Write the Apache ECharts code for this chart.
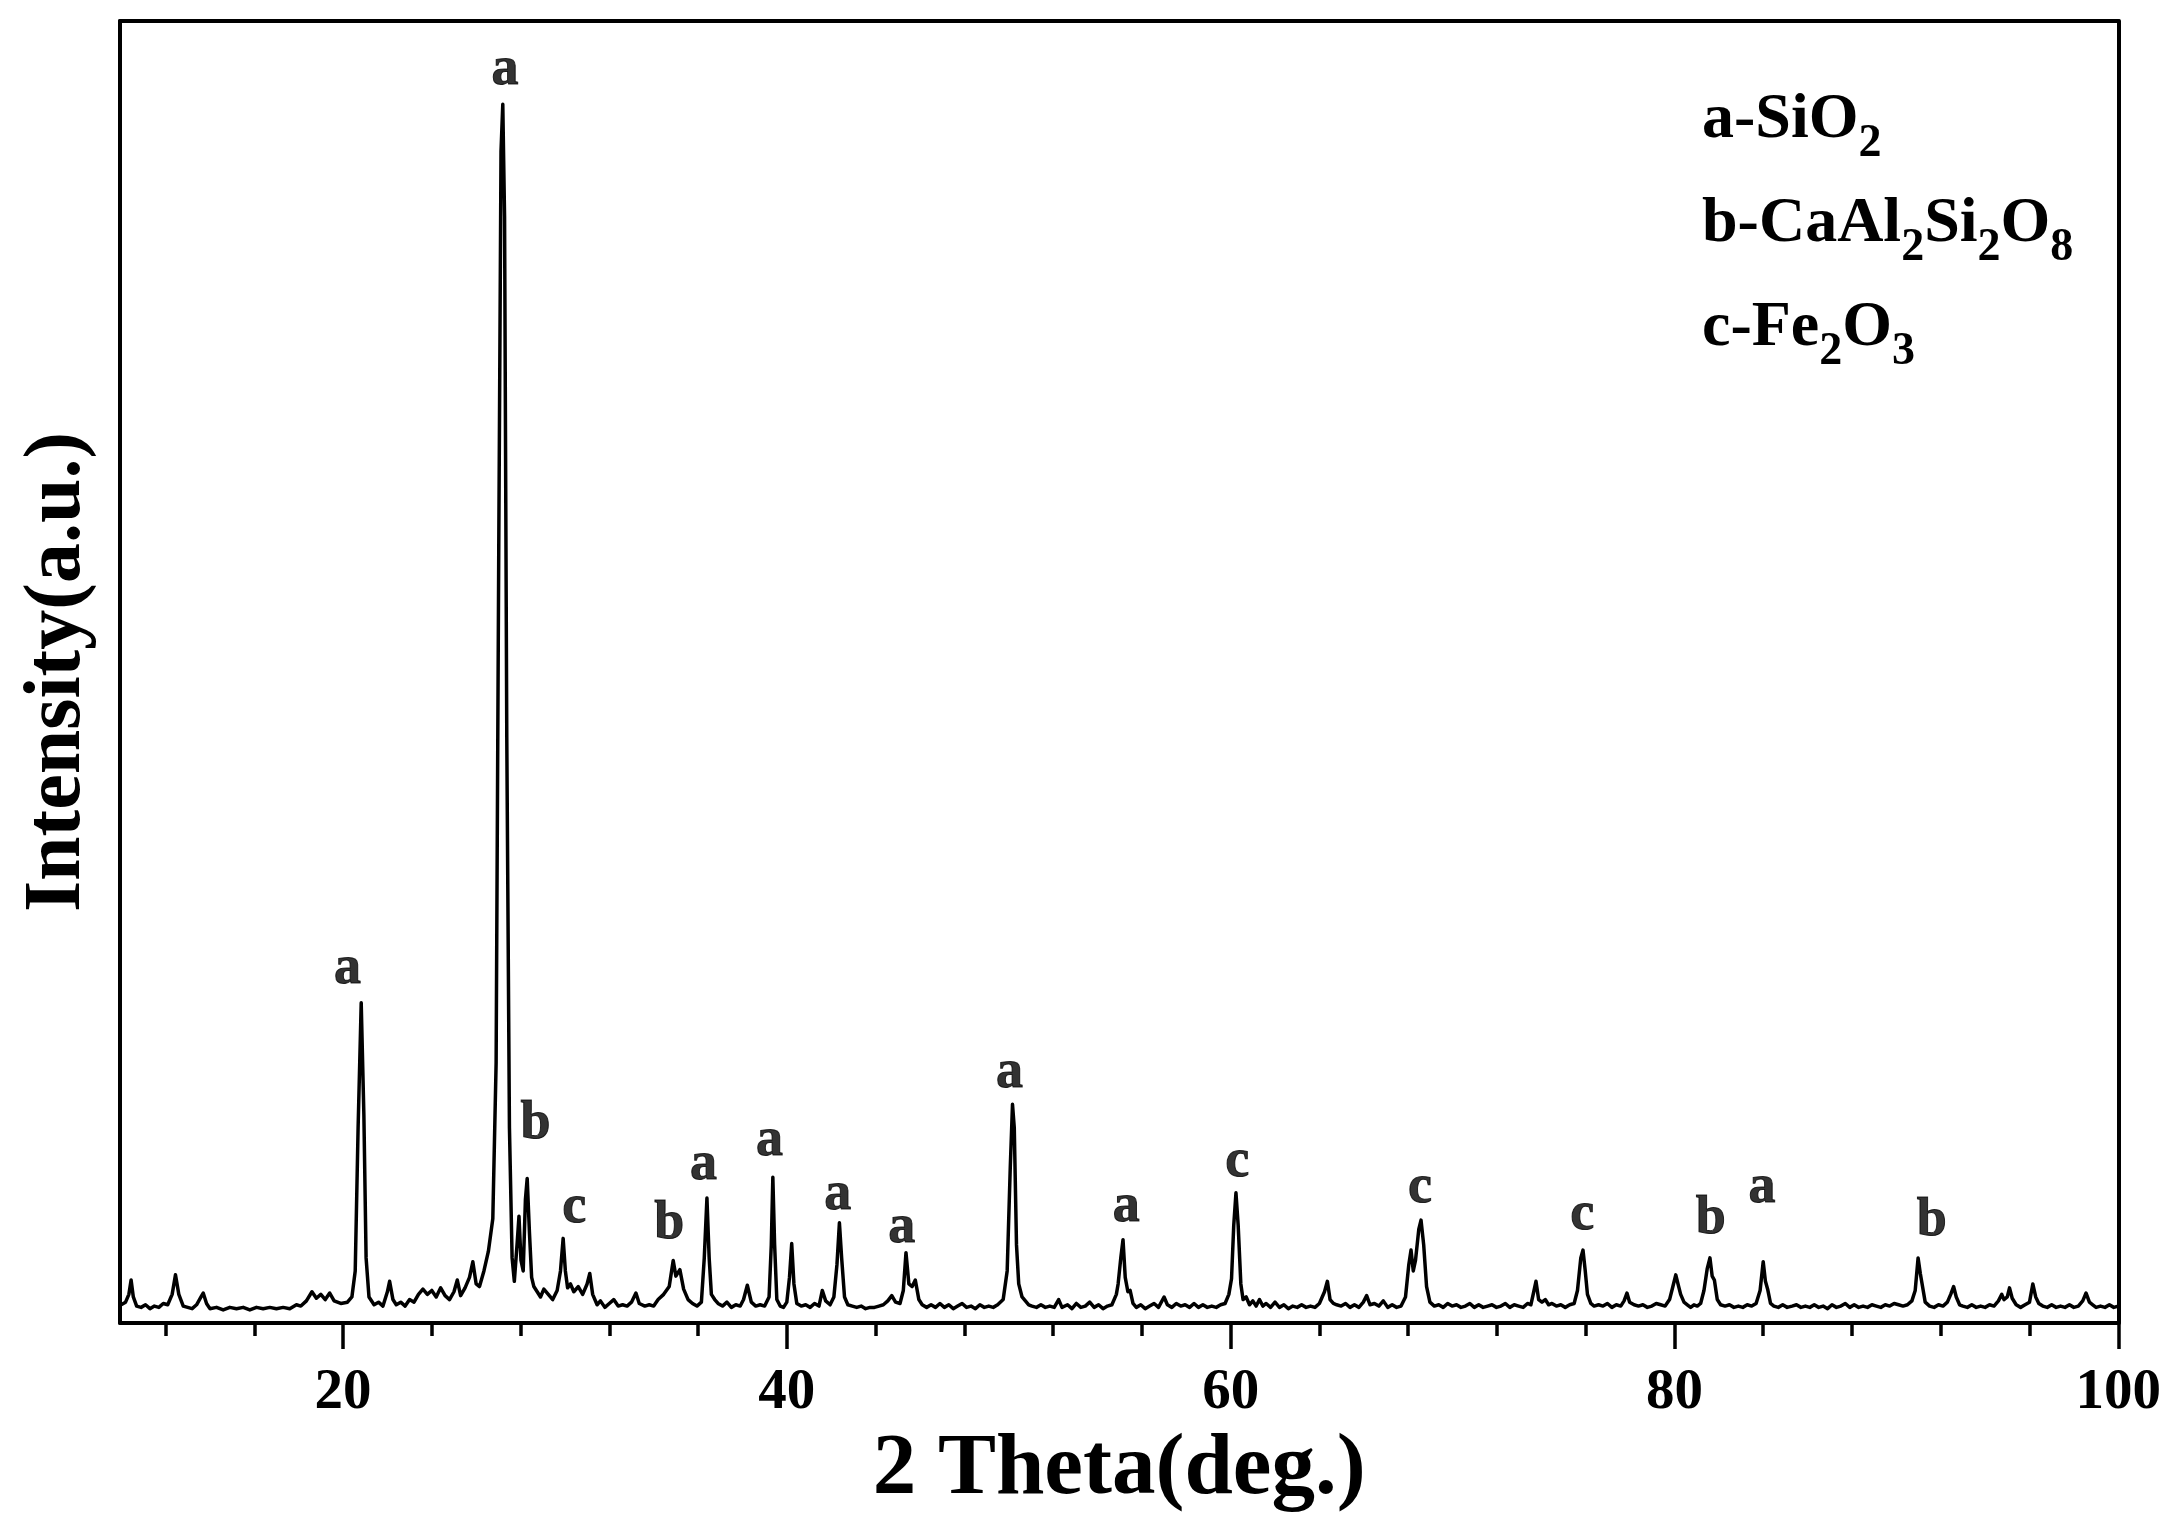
<!DOCTYPE html>
<html>
<head>
<meta charset="utf-8">
<script src="https://cdn.jsdelivr.net/npm/echarts@6/dist/echarts.min.js"></script>
<style>
  html, body { margin: 0; padding: 0; background: #fff; }
  #chart { width: 2164px; height: 1530px; }
</style>
</head>
<body>
<div id="chart"></div>
<script>
// XRD scan: [2theta, intensity(a.u.)]
const scan = [
  [10.0,14],[10.2,16],[10.35,22],[10.45,33],[10.55,20],[10.7,13],[10.9,12],[11.1,14],[11.3,11],[11.5,13],
  [11.7,12],[11.9,15],[12.1,14],[12.3,22],[12.45,37],[12.6,22],[12.8,13],[13.0,12],[13.2,11],[13.4,14],
  [13.6,20],[13.7,23],[13.85,15],[14.0,11],[14.3,12],[14.6,10],[14.9,12],[15.2,11],[15.5,12],[15.8,10],
  [16.1,12],[16.4,11],[16.7,12],[17.0,11],[17.3,12],[17.6,11],[17.9,14],[18.1,13],[18.35,17],[18.6,24],
  [18.8,19],[19.0,22],[19.2,18],[19.4,23],[19.6,17],[19.9,15],[20.2,16],[20.4,20],[20.55,40],[20.68,150],
  [20.82,246],[20.94,160],[21.04,50],[21.17,20],[21.4,14],[21.6,16],[21.8,13],[22.0,24],[22.1,32],[22.25,18],
  [22.4,14],[22.6,16],[22.8,13],[23.0,18],[23.2,16],[23.4,22],[23.6,26],[23.8,22],[24.0,25],[24.2,20],
  [24.4,27],[24.6,21],[24.8,18],[25.0,24],[25.15,33],[25.3,21],[25.5,27],[25.7,35],[25.85,47],[26.0,30],
  [26.15,28],[26.35,40],[26.55,55],[26.75,80],[26.9,200],[27.02,600],[27.12,900],[27.2,936],[27.28,850],[27.38,450],
  [27.5,150],[27.62,50],[27.72,32],[27.85,62],[27.93,82],[28.02,48],[28.12,40],[28.22,95],[28.3,111],[28.4,70],
  [28.5,35],[28.6,28],[28.75,24],[28.9,20],[29.05,26],[29.25,22],[29.45,18],[29.65,25],[29.8,40],[29.92,65],
  [30.02,40],[30.12,27],[30.25,30],[30.4,24],[30.6,28],[30.8,22],[31.0,30],[31.12,38],[31.25,22],[31.45,14],
  [31.6,17],[31.8,12],[32.0,15],[32.2,18],[32.4,13],[32.6,14],[32.8,13],[33.0,16],[33.2,23],[33.35,15],
  [33.6,13],[33.8,14],[34.0,13],[34.2,18],[34.45,22],[34.7,28],[34.88,48],[35.0,36],[35.18,41],[35.35,26],
  [35.55,18],[35.75,15],[35.95,13],[36.15,16],[36.28,50],[36.4,96],[36.5,50],[36.6,22],[36.75,18],[36.9,15],
  [37.1,13],[37.3,16],[37.5,12],[37.7,14],[37.9,13],[38.05,18],[38.22,29],[38.4,16],[38.6,13],[38.8,14],
  [39.0,13],[39.2,20],[39.3,60],[39.37,112],[39.45,60],[39.55,18],[39.7,13],[39.85,12],[40.0,16],[40.12,35],
  [40.22,61],[40.32,30],[40.45,15],[40.65,13],[40.85,14],[41.05,12],[41.25,15],[41.45,13],[41.6,25],[41.75,17],
  [41.95,14],[42.12,20],[42.26,45],[42.37,77],[42.47,50],[42.6,20],[42.75,14],[42.95,13],[43.15,12],[43.35,13],
  [43.55,11],[43.75,12],[43.95,12],[44.15,13],[44.35,14],[44.55,17],[44.73,21],[44.9,16],[45.1,15],[45.25,25],
  [45.37,54],[45.5,30],[45.65,28],[45.79,33],[45.95,18],[46.1,14],[46.3,12],[46.5,14],[46.7,12],[46.9,15],
  [47.1,12],[47.3,14],[47.5,11],[47.7,13],[47.9,15],[48.1,12],[48.3,13],[48.5,11],[48.7,14],[48.9,12],
  [49.1,13],[49.3,12],[49.5,14],[49.75,18],[49.93,40],[50.07,120],[50.17,168],[50.25,150],[50.35,60],[50.45,30],
  [50.6,20],[50.75,17],[50.9,14],[51.05,13],[51.25,12],[51.45,14],[51.65,12],[51.85,13],[52.05,12],[52.25,18],
  [52.4,12],[52.65,14],[52.85,11],[53.05,15],[53.25,12],[53.45,13],[53.65,16],[53.85,12],[54.05,14],[54.25,11],
  [54.45,13],[54.65,14],[54.85,22],[54.93,30],[55.05,50],[55.15,64],[55.25,35],[55.37,24],[55.47,25],[55.6,15],
  [55.75,12],[55.95,14],[56.15,11],[56.35,13],[56.55,15],[56.75,12],[57.0,20],[57.15,14],[57.35,12],[57.55,15],
  [57.75,13],[57.95,14],[58.15,12],[58.35,15],[58.55,12],[58.75,14],[58.95,12],[59.15,13],[59.35,12],[59.55,14],
  [59.75,15],[59.92,22],[60.04,34],[60.14,75],[60.24,100],[60.34,75],[60.46,30],[60.56,18],[60.7,20],[60.85,14],
  [61.0,17],[61.15,13],[61.3,18],[61.45,13],[61.6,15],[61.8,12],[62.0,16],[62.2,12],[62.4,14],[62.6,11],
  [62.8,13],[63.0,12],[63.2,14],[63.4,12],[63.6,13],[63.8,12],[64.0,15],[64.23,24],[64.36,32],[64.48,18],
  [64.63,15],[64.78,14],[64.98,13],[65.18,15],[65.38,12],[65.58,14],[65.78,12],[65.98,16],[66.13,21],[66.28,14],
  [66.48,15],[66.68,13],[66.88,17],[67.08,12],[67.28,14],[67.48,12],[67.68,13],[67.88,20],[68.03,45],[68.13,56],
  [68.23,40],[68.33,48],[68.48,72],[68.58,79],[68.7,60],[68.83,28],[68.98,16],[69.18,13],[69.38,14],[69.58,12],
  [69.78,15],[69.98,13],[70.18,14],[70.38,12],[70.58,13],[70.78,15],[70.98,12],[71.18,14],[71.38,12],[71.58,13],
  [71.78,14],[71.98,12],[72.18,13],[72.38,15],[72.58,12],[72.78,14],[72.98,13],[73.18,12],[73.38,15],[73.53,14],
  [73.66,24],[73.76,32],[73.88,18],[74.03,16],[74.18,18],[74.33,14],[74.48,15],[74.68,13],[74.88,14],[75.08,12],
  [75.28,14],[75.48,15],[75.63,25],[75.78,50],[75.88,56],[75.98,40],[76.08,22],[76.23,15],[76.38,13],[76.58,14],
  [76.78,13],[76.98,15],[77.18,12],[77.38,14],[77.58,13],[77.73,17],[77.86,23],[77.98,16],[78.18,14],[78.38,13],
  [78.58,14],[78.78,12],[78.98,13],[79.18,15],[79.38,14],[79.58,13],[79.78,18],[79.93,28],[80.06,37],[80.16,30],
  [80.28,22],[80.43,16],[80.58,14],[80.73,12],[80.88,14],[81.03,13],[81.18,15],[81.33,25],[81.48,42],[81.6,50],
  [81.7,36],[81.8,33],[81.93,18],[82.08,14],[82.28,13],[82.48,14],[82.68,12],[82.88,13],[83.08,12],[83.28,14],
  [83.48,13],[83.68,15],[83.86,25],[84.0,47],[84.1,32],[84.2,26],[84.33,15],[84.48,13],[84.68,12],[84.88,14],
  [85.08,12],[85.3,13],[85.5,14],[85.7,12],[85.9,13],[86.1,12],[86.3,14],[86.5,12],[86.7,13],
  [86.9,11],[87.1,14],[87.3,12],[87.5,13],[87.7,15],[87.9,12],[88.1,14],[88.3,12],[88.5,13],[88.7,12],
  [88.9,14],[89.1,13],[89.3,12],[89.5,14],[89.7,13],[89.9,15],[90.1,14],[90.3,13],[90.5,14],[90.7,17],
  [90.85,25],[90.98,50],[91.08,38],[91.18,28],[91.3,16],[91.5,13],[91.7,12],[91.9,14],[92.1,13],[92.3,16],
  [92.45,22],[92.58,28],[92.7,20],[92.85,14],[93.0,13],[93.2,12],[93.4,14],[93.6,12],[93.8,13],[94.0,12],
  [94.2,14],[94.4,13],[94.6,17],[94.75,22],[94.85,18],[95.0,20],[95.1,27],[95.22,19],[95.4,14],[95.6,12],
  [95.8,14],[96.0,16],[96.15,30],[96.28,20],[96.42,15],[96.6,13],[96.8,12],[97.0,14],[97.2,12],[97.4,13],
  [97.6,12],[97.8,14],[98.0,12],[98.2,13],[98.4,17],[98.55,23],[98.7,16],[98.85,14],[99.0,12],[99.2,13],
  [99.4,12],[99.6,14],[99.8,12],[100.0,13]
];

// phase letters above the peaks
const peakLabelX = [20.2, 27.3, 28.67, 30.42, 34.7, 36.25, 39.22, 42.3, 45.18, 50.03, 55.3, 60.3, 68.53, 75.84, 81.64, 83.95, 91.6];
const peakLabelY = [272, 962, 153, 88, 76, 121, 140, 98, 73, 192, 89, 124, 104, 83, 80, 104, 78];
const peakLabelText = ['a', 'a', 'b', 'c', 'b', 'a', 'a', 'a', 'a', 'a', 'a', 'c', 'c', 'c', 'b', 'a', 'b'];

const majorTicks = [20, 40, 60, 80, 100];
const minorTicks = [12, 16, 24, 28, 32, 36, 44, 48, 52, 56, 64, 68, 72, 76, 84, 88, 92, 96];

// legend lines, {s|..} = subscript
const phaseLegend = ['a-SiO{s|2}', 'b-CaAl{s|2}Si{s|2}O{s|8}', 'c-Fe{s|2}O{s|3}'];

const FONT = '"Liberation Serif", "Times New Roman", serif';
const X_MIN = 9.95, X_MAX = 100;

const chart = echarts.init(document.getElementById('chart'), null, { renderer: 'canvas' });

const labelData = peakLabelX.map((x, i) => [x, peakLabelY[i]]);

const option = {
  animation: false,
  backgroundColor: '#fff',
  grid: { left: 120, right: 42, top: 21, bottom: 207, containLabel: false },
  xAxis: [
    {
      type: 'value', min: X_MIN, max: X_MAX, position: 'bottom',
      name: '2 Theta(deg.)', nameLocation: 'middle', nameGap: 62,
      nameTextStyle: { fontFamily: FONT, fontWeight: 'bold', fontSize: 87, color: '#000' },
      axisLine: { show: true, lineStyle: { color: '#000', width: 4 } },
      axisTick: { show: true, inside: false, length: 26, customValues: majorTicks, lineStyle: { color: '#000', width: 3.5 } },
      axisLabel: { show: true, customValues: majorTicks, margin: 42, fontFamily: FONT, fontWeight: 'bold', fontSize: 57, color: '#000' },
      splitLine: { show: false }
    },
    {
      type: 'value', min: X_MIN, max: X_MAX, position: 'bottom',
      axisLine: { show: false },
      axisTick: { show: true, inside: false, length: 13, customValues: minorTicks, lineStyle: { color: '#000', width: 3.5 } },
      axisLabel: { show: false },
      splitLine: { show: false }
    },
    {
      type: 'value', min: X_MIN, max: X_MAX, position: 'top',
      axisLine: { show: true, lineStyle: { color: '#000', width: 4 } },
      axisTick: { show: false }, axisLabel: { show: false }, splitLine: { show: false }
    }
  ],
  yAxis: [
    {
      type: 'value', min: 0, max: 1000, position: 'left',
      name: 'Intensity(a.u.)', nameLocation: 'middle', nameGap: 22, nameRotate: 90,
      nameTextStyle: { fontFamily: FONT, fontWeight: 'bold', fontSize: 80, color: '#000' },
      axisLine: { show: true, lineStyle: { color: '#000', width: 4 } },
      axisTick: { show: false }, axisLabel: { show: false }, splitLine: { show: false }
    },
    {
      type: 'value', min: 0, max: 1000, position: 'right',
      axisLine: { show: true, lineStyle: { color: '#000', width: 4 } },
      axisTick: { show: false }, axisLabel: { show: false }, splitLine: { show: false }
    }
  ],
  series: [
    {
      name: 'XRD',
      type: 'line',
      xAxisIndex: 0, yAxisIndex: 0,
      data: scan,
      showSymbol: false,
      symbol: 'none',
      lineStyle: { color: '#000', width: 3.5, join: 'round' },
      z: 3
    },
    {
      name: 'phases',
      type: 'scatter',
      xAxisIndex: 0, yAxisIndex: 0,
      data: labelData,
      symbolSize: 0,
      itemStyle: { color: '#000' },
      label: {
        show: true, position: 'inside',
        formatter: p => peakLabelText[p.dataIndex],
        fontFamily: FONT, fontWeight: 'bold', fontSize: 54, color: '#000',
        textBorderColor: '#000', textBorderWidth: 1
      },
      z: 4
    }
  ],
  graphic: phaseLegend.map((txt, i) => ({
    type: 'text',
    x: 1702,
    y: 84 + i * 104,
    style: {
      text: txt,
      fill: '#000',
      fontFamily: FONT,
      fontWeight: 'bold',
      fontSize: 64,
      lineHeight: 72,
      verticalAlign: 'top',
      rich: {
        s: { fontFamily: FONT, fontWeight: 'bold', fontSize: 46, lineHeight: 46, padding: [48, 0, 0, 0], fill: '#000' }
      }
    }
  }))
};

chart.setOption(option);
</script>
</body>
</html>
